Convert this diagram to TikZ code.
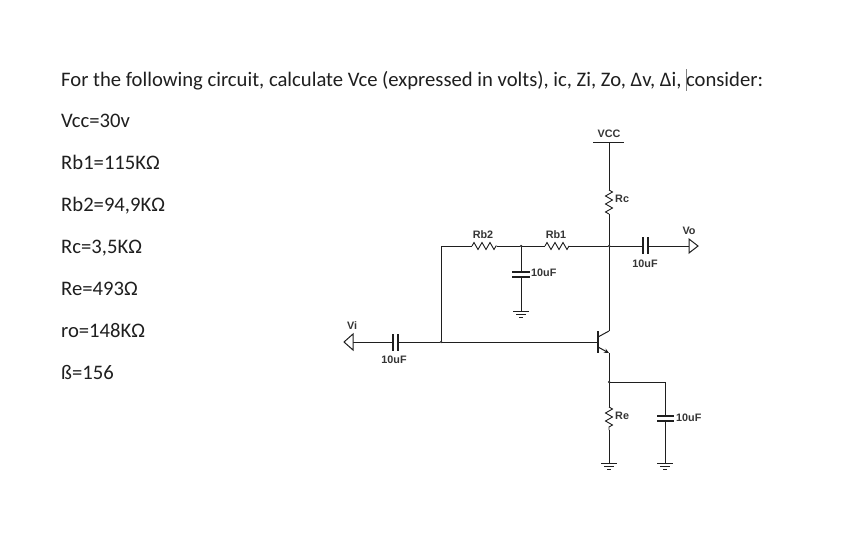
\documentclass[tikz,border=0pt]{standalone}
\usepackage{fontspec}
\setmainfont{Carlito}
\newfontfamily\lblfont{Liberation Sans}
\usetikzlibrary{decorations.pathmorphing,arrows.meta}
\definecolor{ink}{gray}{0.12}
\tikzset{
 x=1pt,y=-1pt,
 wire/.style={draw=ink,line width=1pt},
 plate/.style={draw=ink,line width=1.8pt},
 res/.style={draw=ink,line width=0.9pt,decorate,decoration={zigzag,segment length=8pt,amplitude=3.5pt}},
 txt/.style={anchor=base west,inner sep=0pt,font=\fontsize{20.65}{24}\selectfont,text=ink},
 lbl/.style={inner sep=0pt,font=\lblfont\bfseries\fontsize{10.8}{12}\selectfont,text=ink!90},
 dotn/.style={circle,fill=ink,inner sep=0pt,minimum size=2.5pt},
 gbar/.style={draw=ink,line width=0.9pt}
}
\newcommand{\gnd}[1]{%
 \draw[gbar] ([xshift=-8pt]#1) -- ([xshift=8pt]#1);
 \draw[gbar] ([xshift=-5pt,yshift=-3pt]#1) -- ([xshift=5pt,yshift=-3pt]#1);
 \draw[gbar] ([xshift=-2pt,yshift=-6pt]#1) -- ([xshift=2pt,yshift=-6pt]#1);
}
\begin{document}
\begin{tikzpicture}
\useasboundingbox (0,0) rectangle (861,549);
\fill[white] (0,0) rectangle (861,549);
% text
\node[txt] (t0) at (61,86) {For the following circuit, calculate Vce (expressed in volts), ic, Zi, Zo, Δv, Δi, consider:};
\node[txt] (t1) at (61,127) {Vcc=30v};
\node[txt] (t2) at (61,169) {Rb1=115KΩ};
\node[txt] (t3) at (61,211) {Rb2=94,9KΩ};
\node[txt] (t4) at (61,253) {Rc=3,5KΩ};
\node[txt] (t5) at (61,295) {Re=493Ω};
\node[txt] (t6) at (61,337) {ro=148KΩ};
\node[txt] (t7) at (61,379) {ß=156};
\draw[gray,line width=0.5pt] (686,69) -- (686,91);
% coordinates
\coordinate (vccL) at (593,142);
\coordinate (vccR) at (624,142);
\coordinate (vcc) at (609,142);
\coordinate (rcT) at (609,190);
\coordinate (rcB) at (609,214);
\coordinate (col) at (609,331);
\coordinate (left) at (441,246);
\coordinate (rb2L) at (472,246);
\coordinate (rb2R) at (497,246);
\coordinate (rb1L) at (545,246);
\coordinate (rb1R) at (569,246);
\coordinate (c1a) at (643,246);
\coordinate (c1b) at (648,246);
\coordinate (tipBase) at (689,246);
\coordinate (c2a) at (521,272);
\coordinate (c2b) at (521,277);
\coordinate (g1) at (521,311);
\coordinate (base) at (598,342);
\coordinate (c3a) at (393,342);
\coordinate (c3b) at (398,342);
\coordinate (viBase) at (353,342);
\coordinate (cbot) at (598,337);
\coordinate (ebot) at (598,347);
\coordinate (emi) at (609,353);
\coordinate (reT) at (609,407);
\coordinate (reB) at (609,430);
\coordinate (g2) at (609,463);
\coordinate (corner) at (665,382);
\coordinate (c4a) at (665,416);
\coordinate (c4b) at (665,421);
\coordinate (g3) at (665,463);
% junctions
\node[dotn] (jc) at (609,246) {};
\node[dotn] (jm) at (521,246) {};
\node[dotn] (jb) at (441,342) {};
\node[dotn] (je) at (609,382) {};
% wires
\draw[gbar] (vccL) -- (vccR);
\draw[wire] (vcc) -- (rcT);
\draw[res] (rcT) -- (rcB);
\draw[wire] (rcB) -- (jc);
\draw[wire] (jc) -- (col);
\draw[wire] (jb) -- (left) -- (rb2L);
\draw[res] (rb2L) -- (rb2R);
\draw[wire] (rb2R) -- (jm) -- (rb1L);
\draw[res] (rb1L) -- (rb1R);
\draw[wire] (rb1R) -- (jc) -- (c1a);
\draw[plate] (643,237) -- (643,254);
\draw[plate] (648,237) -- (648,254);
\draw[wire] (c1b) -- (tipBase);
\draw[wire,fill=white] (689,239) -- (698,246) -- (689,253) -- cycle;
\draw[wire] (jm) -- (c2a);
\draw[plate] (512,272) -- (530,272);
\draw[plate] (512,277) -- (530,277);
\draw[wire] (c2b) -- (g1);
\gnd{g1}
\draw[wire] (viBase) -- (c3a);
\draw[plate] (393,334) -- (393,351);
\draw[plate] (398,334) -- (398,351);
\draw[wire] (c3b) -- (jb) -- (base);
\draw[wire,fill=white] (353,334) -- (344,342) -- (353,350) -- cycle;
% transistor
\draw[plate,line width=1.1pt] (598,331) -- (598,353);
\draw[wire] (cbot) -- (col);
\draw[wire,-{Stealth[length=5pt,width=4.5pt]}] (ebot) -- (emi);
\draw[wire] (emi) -- (je) -- (reT);
\draw[res] (reT) -- (reB);
\draw[wire] (reB) -- (g2);
\gnd{g2}
\draw[wire] (je) -- (corner) -- (c4a);
\draw[plate] (657,416) -- (674,416);
\draw[plate] (657,421) -- (674,421);
\draw[wire] (c4b) -- (g3);
\gnd{g3}
% labels
\node[lbl] (lvcc) at (609,134) {VCC};
\node[lbl,anchor=west] (lrc) at (615,199) {Rc};
\node[lbl] (lrb2) at (483,235) {Rb2};
\node[lbl] (lrb1) at (556,235) {Rb1};
\node[lbl] (lvo) at (689,231) {Vo};
\node[lbl] (lc1) at (645,264) {10uF};
\node[lbl,anchor=west] (lc2) at (531,273) {10uF};
\node[lbl] (lvi) at (352,326) {Vi};
\node[lbl] (lc3) at (394,360) {10uF};
\node[lbl,anchor=west] (lre) at (615,416) {Re};
\node[lbl,anchor=west] (lc4) at (676,418) {10uF};
\end{tikzpicture}
\end{document}
